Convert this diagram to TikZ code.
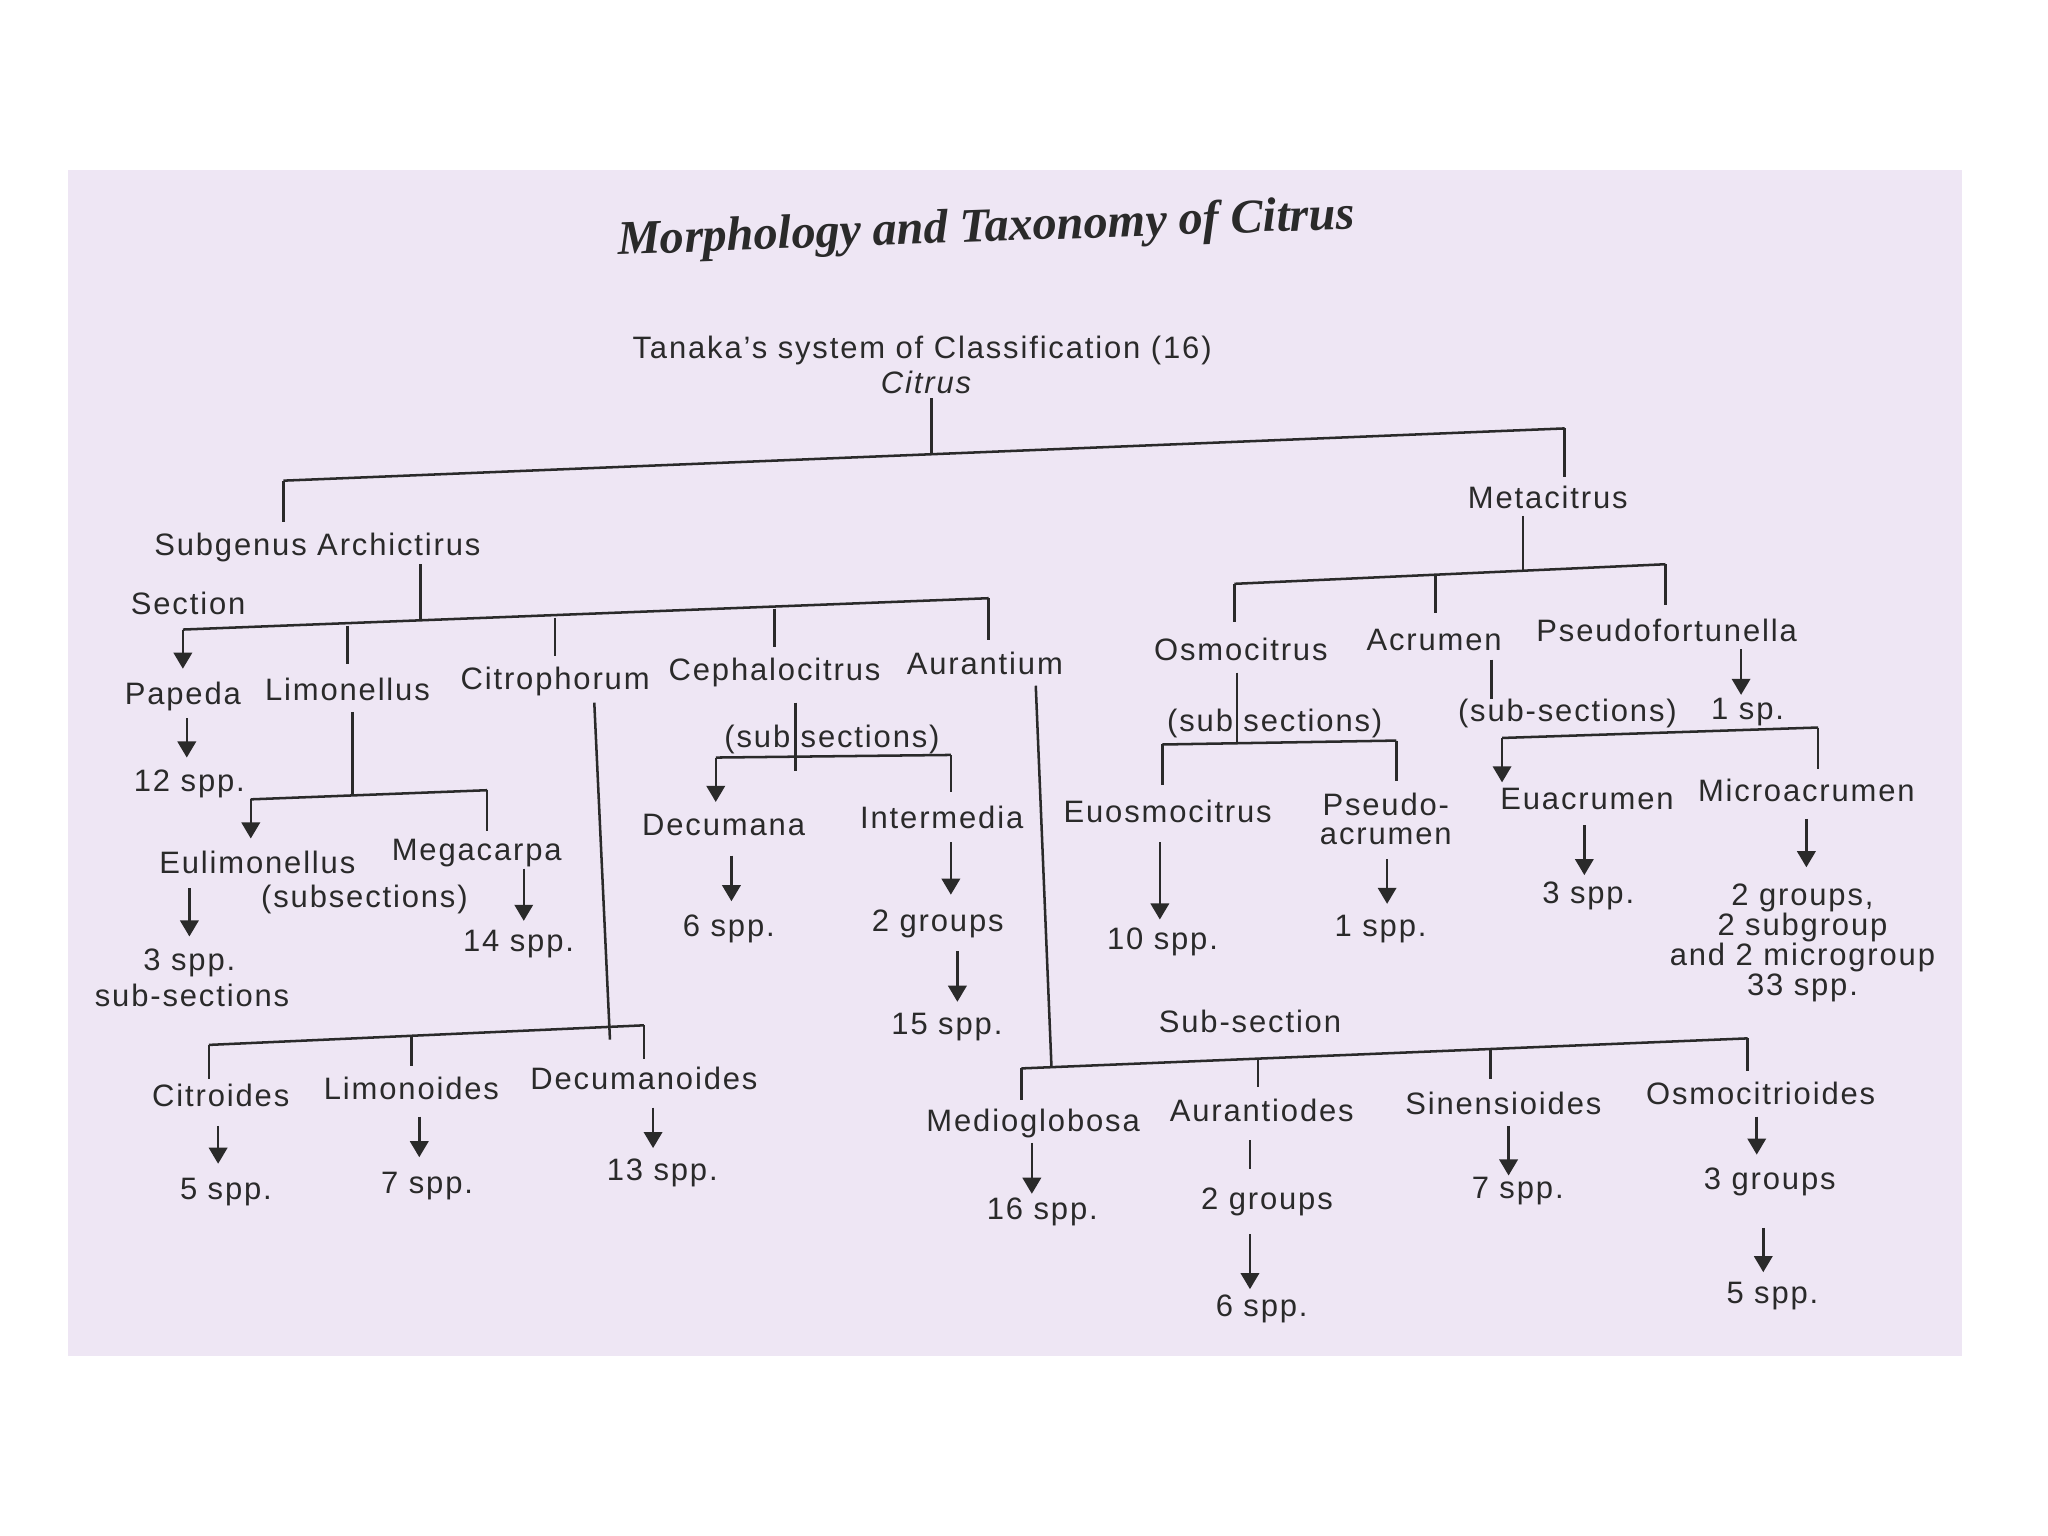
\documentclass[tikz,border=0pt]{standalone}
\usepackage{fontspec}
\setmainfont{Liberation Sans}[LetterSpace=6]
\newfontfamily\titlefont{Liberation Serif}
\usetikzlibrary{arrows.meta}
\definecolor{bgc}{HTML}{EEE6F4}
\definecolor{ink}{HTML}{2A2A2A}
\tikzset{
 lab/.style={font=\fontsize{13.5}{15}\selectfont, text=ink, inner sep=1pt},
 ln/.style={draw=ink, line width=1.1pt},
 ar/.style={ln, -{Triangle[length=7pt,width=8pt]}}
}
\begin{document}
\begin{tikzpicture}[x=0.02cm,y=-0.02cm]
\useasboundingbox (0,0) rectangle (1568,1176);
\fill[white] (0,0) rectangle (1568,1176);
\fill[bgc] (52,130) rectangle (1502,1038);
\node[font=\titlefont\bfseries\itshape\fontsize{21}{24}\selectfont, text=ink, rotate=2] (title) at (755,176) {Morphology and Taxonomy of Citrus};
\node[lab] (tanaka) at (706,268) {Tanaka's system of Classification (16)};
\node[lab, font=\fontsize{13.5}{15}\selectfont\itshape] (citrus) at (709,293) {Citrus};
% top level
\coordinate (c0) at (713,305); \coordinate (c1) at (713,347);
\draw[ln] (c0) -- (c1);
\coordinate (hL) at (217,368); \coordinate (hR) at (1198,328);
\draw[ln] (hL) -- (hR);
\coordinate (hLd) at (217,400); \coordinate (hRd) at (1198,365);
\draw[ln] (hL) -- (hLd); \draw[ln] (hR) -- (hRd);
\node[lab] (meta) at (1185,381) {Metacitrus};
\node[lab] (arch) at (243,419) {Subgenus Archictirus};
\node[lab] (section) at (144,462) {Section};
% archicitrus sections
\coordinate (a0) at (322,432); \coordinate (a1) at (322,474);
\draw[ln] (a0) -- (a1);
\coordinate (sL) at (140,482); \coordinate (sR) at (757,458);
\draw[ln] (sL) -- (sR);
\coordinate (s1) at (140,512); \draw[ar] (sL) -- (s1);
\coordinate (s2a) at (266,479); \coordinate (s2b) at (266,508); \draw[ln] (s2a) -- (s2b);
\coordinate (s3a) at (425,473); \coordinate (s3b) at (425,502); \draw[ln] (s3a) -- (s3b);
\coordinate (s4a) at (593,466); \coordinate (s4b) at (593,495); \draw[ln] (s4a) -- (s4b);
\coordinate (s5b) at (757,490); \draw[ln] (sR) -- (s5b);
\node[lab] (papeda) at (140,533) {Papeda};
\node[lab] (limon) at (266,528) {Limonellus};
\node[lab] (citroph) at (425,522) {Citrophorum};
\node[lab] (cephal) at (593,515) {Cephalocitrus};
\node[lab] (auran) at (754,508) {Aurantium};
% papeda
\coordinate (p1) at (143,550); \coordinate (p2) at (143,580); \draw[ar] (p1) -- (p2);
\node[lab] (p12) at (145,600) {12 spp.};
% limonellus
\coordinate (l1) at (270,545); \coordinate (l2) at (270,608); \draw[ln] (l1) -- (l2);
\coordinate (lL) at (192,612); \coordinate (lR) at (373,605); \draw[ln] (lL) -- (lR);
\coordinate (lLd) at (192,642); \draw[ar] (lL) -- (lLd);
\coordinate (lRd) at (373,636); \draw[ln] (lR) -- (lRd);
\node[lab] (eulim) at (197,660) {Eulimonellus};
\node[lab] (mega) at (365,653) {Megacarpa};
\node[lab] (subs1) at (279,689) {(subsections)};
\coordinate (e1) at (145,680); \coordinate (e2) at (145,717); \draw[ar] (e1) -- (e2);
\node[lab] (e3) at (145,737) {3 spp.};
\node[lab] (e3b) at (147,762) {sub-sections};
\coordinate (m1) at (401,665); \coordinate (m2) at (401,705); \draw[ar] (m1) -- (m2);
\node[lab] (m14) at (397,723) {14 spp.};
% citrophorum
\coordinate (cp1) at (455,538); \coordinate (cp2) at (467,796); \draw[ln] (cp1) -- (cp2);
\coordinate (cL) at (160,800); \coordinate (cR) at (493,785); \draw[ln] (cL) -- (cR);
\coordinate (cLd) at (160,826); \draw[ln] (cL) -- (cLd);
\coordinate (cMa) at (315,793); \coordinate (cMd) at (315,816); \draw[ln] (cMa) -- (cMd);
\coordinate (cRd) at (493,811); \draw[ln] (cR) -- (cRd);
\node[lab] (citroi) at (169,839) {Citroides};
\node[lab] (limonoi) at (315,833) {Limonoides};
\node[lab] (decumoi) at (493,826) {Decumanoides};
\coordinate (ca1) at (167,862); \coordinate (ca2) at (167,891); \draw[ar] (ca1) -- (ca2);
\coordinate (cb1) at (321,855); \coordinate (cb2) at (321,886); \draw[ar] (cb1) -- (cb2);
\coordinate (cc1) at (500,848); \coordinate (cc2) at (500,879); \draw[ar] (cc1) -- (cc2);
\node[lab] (c5) at (173,913) {5 spp.};
\node[lab] (c7) at (327,908) {7 spp.};
\node[lab] (c13) at (507,898) {13 spp.};
% cephalocitrus
\node[lab] (subs2) at (637,566) {(sub sections)};
\coordinate (ce1) at (609,538); \coordinate (ce2) at (609,590); \draw[ln] (ce1) -- (ce2);
\coordinate (ceL) at (548,580); \coordinate (ceR) at (728,578); \draw[ln] (ceL) -- (ceR);
\coordinate (ceLd) at (548,614); \draw[ar] (ceL) -- (ceLd);
\coordinate (ceRd) at (728,606); \draw[ln] (ceR) -- (ceRd);
\node[lab] (decum) at (554,632) {Decumana};
\node[lab] (inter) at (721,626) {Intermedia};
\coordinate (d1) at (560,655); \coordinate (d2) at (560,690); \draw[ar] (d1) -- (d2);
\coordinate (i1) at (728,645); \coordinate (i2) at (728,685); \draw[ar] (i1) -- (i2);
\node[lab] (d6) at (558,711) {6 spp.};
\node[lab] (i2g) at (718,707) {2 groups};
\coordinate (i3) at (733,728); \coordinate (i4) at (733,767); \draw[ar] (i3) -- (i4);
\node[lab] (i15) at (725,786) {15 spp.};
% aurantium
\coordinate (au1) at (793,525); \coordinate (au2) at (805,816); \draw[ln] (au1) -- (au2);
\node[lab] (subsec) at (957,782) {Sub-section};
\coordinate (auL) at (782,818); \coordinate (auR) at (1338,795); \draw[ln] (auL) -- (auR);
\coordinate (auLd) at (782,842); \draw[ln] (auL) -- (auLd);
\coordinate (au3a) at (963,810); \coordinate (au3b) at (963,832); \draw[ln] (au3a) -- (au3b);
\coordinate (au4a) at (1141,802); \coordinate (au4b) at (1141,826); \draw[ln] (au4a) -- (au4b);
\coordinate (auRd) at (1338,820); \draw[ln] (auR) -- (auRd);
\node[lab] (medio) at (791,860) {Medioglobosa};
\node[lab] (aurdes) at (966,850) {Aurantiodes};
\node[lab] (sinen) at (1151,845) {Sinensioides};
\node[lab] (osmoci) at (1348,837) {Osmocitrioides};
\coordinate (md1) at (790,875); \coordinate (md2) at (790,914); \draw[ar] (md1) -- (md2);
\node[lab] (m16) at (798,928) {16 spp.};
\coordinate (ad1) at (957,873); \coordinate (ad2) at (957,895); \draw[ln] (ad1) -- (ad2);
\node[lab] (a2g) at (970,920) {2 groups};
\coordinate (ad3) at (957,945); \coordinate (ad4) at (957,987); \draw[ar] (ad3) -- (ad4);
\node[lab] (a6) at (966,1002) {6 spp.};
\coordinate (sn1) at (1155,862); \coordinate (sn2) at (1155,900); \draw[ar] (sn1) -- (sn2);
\node[lab] (s7) at (1162,912) {7 spp.};
\coordinate (oc1) at (1345,855); \coordinate (oc2) at (1345,884); \draw[ar] (oc1) -- (oc2);
\node[lab] (o3g) at (1355,905) {3 groups};
\coordinate (oc3) at (1350,940); \coordinate (oc4) at (1350,974); \draw[ar] (oc3) -- (oc4);
\node[lab] (o5) at (1357,992) {5 spp.};
% metacitrus
\coordinate (mt1) at (1166,395); \coordinate (mt2) at (1166,437); \draw[ln] (mt1) -- (mt2);
\coordinate (mtL) at (945,447); \coordinate (mtR) at (1275,432); \draw[ln] (mtL) -- (mtR);
\coordinate (mtLd) at (945,476); \draw[ln] (mtL) -- (mtLd);
\coordinate (mtMa) at (1099,440); \coordinate (mtMd) at (1099,469); \draw[ln] (mtMa) -- (mtMd);
\coordinate (mtRd) at (1275,463); \draw[ln] (mtR) -- (mtRd);
\node[lab] (osmo) at (950,497) {Osmocitrus};
\node[lab] (acru) at (1098,490) {Acrumen};
\node[lab] (pseudof) at (1276,483) {Pseudofortunella};
\coordinate (pf1) at (1333,497); \coordinate (pf2) at (1333,532); \draw[ar] (pf1) -- (pf2);
\node[lab] (pf1sp) at (1338,545) {1 sp.};
% osmocitrus
\node[lab] (subs3) at (976,554) {(sub sections)};
\coordinate (os1) at (947,515); \coordinate (os2) at (947,570); \draw[ln] (os1) -- (os2);
\coordinate (osL) at (890,570); \coordinate (osR) at (1069,567); \draw[ln] (osL) -- (osR);
\coordinate (osLd) at (890,601); \draw[ln] (osL) -- (osLd);
\coordinate (osRd) at (1069,598); \draw[ln] (osR) -- (osRd);
\node[lab] (euosmo) at (894,621) {Euosmocitrus};
\node[lab, align=center] (pseudoa) at (1061,627) {Pseudo-\\[-2pt]acrumen};
\coordinate (eo1) at (888,645); \coordinate (eo2) at (888,704); \draw[ar] (eo1) -- (eo2);
\node[lab] (eo10) at (890,721) {10 spp.};
\coordinate (pa1) at (1062,658); \coordinate (pa2) at (1062,692); \draw[ar] (pa1) -- (pa2);
\node[lab] (pa1s) at (1057,711) {1 spp.};
% acrumen
\coordinate (ac1) at (1142,505); \coordinate (ac2) at (1142,535); \draw[ln] (ac1) -- (ac2);
\node[lab] (subs4) at (1200,546) {(sub-sections)};
\coordinate (acL) at (1150,565); \coordinate (acR) at (1392,557); \draw[ln] (acL) -- (acR);
\coordinate (acLd) at (1150,599); \draw[ar] (acL) -- (acLd);
\coordinate (acRd) at (1392,589); \draw[ln] (acR) -- (acRd);
\node[lab] (euac) at (1215,612) {Euacrumen};
\node[lab] (microac) at (1383,605) {Microacrumen};
\coordinate (ea1) at (1213,632); \coordinate (ea2) at (1213,670); \draw[ar] (ea1) -- (ea2);
\coordinate (ma1) at (1383,627); \coordinate (ma2) at (1383,664); \draw[ar] (ma1) -- (ma2);
\node[lab] (ea3) at (1216,686) {3 spp.};
\node[lab, align=center] (ma33) at (1380,722) {2 groups,\\[-2pt]2 subgroup\\[-2pt]and 2 microgroup\\[-2pt]33 spp.};
\end{tikzpicture}
\end{document}
